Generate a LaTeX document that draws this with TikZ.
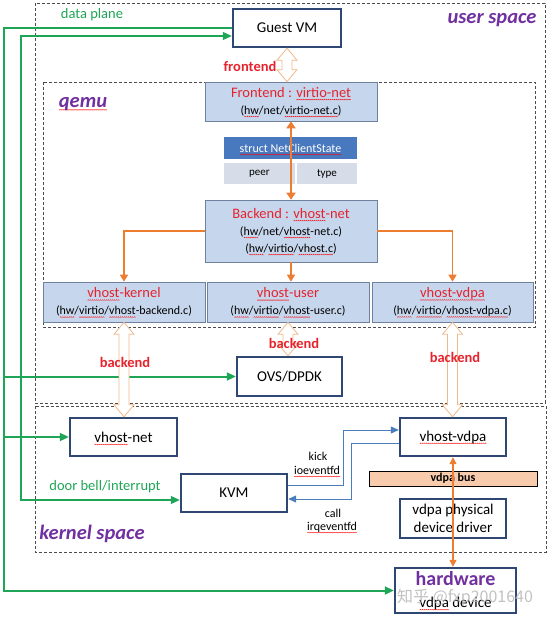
\documentclass[tikz,border=0pt]{standalone}
\usepackage{fontspec}
\setmainfont{Carlito}
\newfontfamily\cjkfont{Noto Sans CJK SC}
\usetikzlibrary{arrows.meta,calc}
\definecolor{tred}{RGB}{230,35,45}
\definecolor{tpurple}{RGB}{112,48,160}
\definecolor{tgreen}{RGB}{30,165,85}
\definecolor{navy}{RGB}{47,72,115}
\definecolor{lblue}{RGB}{198,214,236}
\definecolor{lbord}{RGB}{110,130,160}
\definecolor{sblue}{RGB}{72,120,190}
\definecolor{cellc}{RGB}{214,221,232}
\definecolor{orng}{RGB}{237,125,49}
\definecolor{lorng}{RGB}{240,185,140}
\definecolor{busc}{RGB}{248,203,173}
\definecolor{kblue}{RGB}{74,126,187}
\newcommand\fsz[2]{\fontsize{#1}{#2}\selectfont}
\newcommand\ttl[1]{{\fsz{14.5}{17}\color{tred}#1}}
\newsavebox\sqbox
\newcommand\sq[1]{\leavevmode\sbox\sqbox{#1}\rlap{\raisebox{-2.8pt}[0pt][0pt]{\hbox to \wd\sqbox{\xleaders\hbox{\tikz[x=1pt,y=1pt,baseline=0pt]\draw[red,line width=0.35pt,line join=round] (0,0)--(0.8,0.9)--(1.6,0);}\hfill}}}\usebox\sqbox}
\newcommand\hollowarrow[2]{%
  \path[hollow] let \p1=(#1), \p2=(#2) in
    (\x1,\y1) -- ({\x1+10pt},{\y1-12pt}) -- ({\x1+5pt},{\y1-12pt})
    -- ({\x1+5pt},{\y2+12pt}) -- ({\x1+10pt},{\y2+12pt}) -- (\x1,\y2)
    -- ({\x1-10pt},{\y2+12pt}) -- ({\x1-5pt},{\y2+12pt})
    -- ({\x1-5pt},{\y1-12pt}) -- ({\x1-10pt},{\y1-12pt}) -- cycle;}
\begin{document}
\begin{tikzpicture}[x=1pt,y=-1pt,
  dkbox/.style={draw=navy,line width=2.4pt,fill=white,inner sep=0pt,align=center,font=\fsz{15}{18},text=black},
  qbox/.style={draw=lbord,line width=0.6pt,fill=lblue,inner sep=0pt,align=center,font=\fsz{12}{17}},
  cell/.style={fill=cellc,inner sep=0pt,font=\fsz{11}{12}},
  dashbox/.style={draw=black!70,line width=0.6pt,dash pattern=on 3pt off 2pt},
  spacelbl/.style={inner sep=0pt,text=tpurple,font=\fsz{20.5}{24}\bfseries\itshape},
  redlbl/.style={inner sep=0pt,text=tred,font=\fsz{14.5}{17}\bfseries},
  gtxt/.style={inner sep=0pt,text=tgreen,font=\fsz{14.5}{17}},
  smtxt/.style={inner sep=0pt,font=\fsz{12}{14}},
  hollow/.style={draw=lorng,line width=0.8pt,fill=white},
  othick/.style={draw=orng,line width=2.5pt,{Triangle[length=7pt,width=9pt]}-{Triangle[length=7pt,width=9pt]}},
  othin/.style={draw=orng,line width=1.4pt,-{Triangle[length=7pt,width=8pt]}},
  gthick/.style={draw=tgreen,line width=2pt},
  gthin/.style={draw=tgreen,line width=1.1pt},
  garrow/.style={-{Triangle[length=9pt,width=8pt]}},
  kline/.style={draw=kblue,line width=1pt,-{Triangle[length=8pt,width=7pt]}},
]
\useasboundingbox (0,0) rectangle (550,620);
% containers
\draw[dashbox] (35,3) rectangle (545,403);
\draw[dashbox] (35,406) rectangle (546,552);
\draw[dashbox] (43,82) rectangle (535,327);
% boxes
\node[dkbox,minimum width=108pt,minimum height=38pt] (gvm) at (287,28) {Guest VM};
\node[qbox,minimum width=172pt,minimum height=39pt] (fe) at (291,101.5) {\ttl{Frontend : \sq{virtio-net}}\\(\sq{hw}/net/\sq{virtio-net.c})};
\node[fill=sblue,inner sep=0pt,minimum width=133pt,minimum height=22pt,text=white,font=\fsz{12}{13}] (st) at (290.5,148) {\sq{struct NetClientState}};
\node[cell,minimum width=71pt,minimum height=21pt] (peer) at (259.5,173.5) {peer};
\node[cell,minimum width=60pt,minimum height=21pt] (type) at (327,173.5) {type};
\node[qbox,minimum width=172pt,minimum height=62pt] (be) at (291,231) {\ttl{Backend : \sq{vhost}-net}\\(\sq{hw}/net/\sq{vhost}-net.c)\\(\sq{hw}/\sq{virtio}/\sq{vhost.c})};
\node[qbox,minimum width=162pt,minimum height=40pt] (vk) at (124,302) {\ttl{\sq{vhost}-kernel}\\(\sq{hw}/\sq{virtio}/\sq{vhost}-backend.c)};
\node[qbox,minimum width=162pt,minimum height=40pt] (vu) at (288,302) {\ttl{\sq{vhost}-user}\\(\sq{hw}/\sq{virtio}/\sq{vhost}-user.c)};
\node[qbox,minimum width=161pt,minimum height=40pt] (vv) at (452.5,302) {\ttl{\sq{vhost-vdpa}}\\(\sq{hw}/\sq{virtio}/\sq{vhost-vdpa.c})};
\node[dkbox,minimum width=105pt,minimum height=39pt] (ovs) at (289.5,376.5) {OVS/DPDK};
\node[dkbox,minimum width=107pt,minimum height=38pt] (vnet) at (123.5,437) {\sq{vhost}-net};
\node[dkbox,minimum width=106pt,minimum height=38pt] (kvdpa) at (453,437) {\sq{vhost-vdpa}};
\node[dkbox,minimum width=106pt,minimum height=38pt] (kvm) at (234,493) {KVM};
\node[draw=black,line width=0.6pt,fill=busc,inner sep=0pt,minimum width=168pt,minimum height=15pt,font=\fsz{12}{14}\bfseries] (bus) at (453,478.5) {vdpa bus};
\node[dkbox,minimum width=106pt,minimum height=39pt] (drv) at (453,518.5) {vdpa physical\\device driver};
\node[dkbox,minimum width=121pt,minimum height=45pt,font=\fsz{15}{22}] (hw) at (455.5,590.5) {{\fsz{20}{22}\bfseries\color{tpurple}hardware}\\\sq{vdpa} device};
% orange connectors
\draw[othick] (fe.south) -- (be.north);
\draw[othin] (be.west) -| (vk.north);
\draw[othin] (be.east) -| (vv.north);
\draw[othin] (be.south) -- (be.south |- vu.north);
\draw[draw=orng,line width=1.2pt,{Triangle[length=7pt,width=7pt]}-{Triangle[length=7pt,width=7pt]}] (kvdpa.south) -- (kvdpa.south |- hw.north);
% green data plane
\coordinate (gL) at (4,28);
\coordinate (gI) at (21,36);
\coordinate (kin) at ($(kvm.west)+(0,7)$);
\coordinate (gin) at ($(gvm.west)+(0,8)$);
\draw[gthick,garrow] (gvm.west) -- (gL) |- (hw.west);
\draw[gthick,garrow] (gL |- ovs.west) -- (ovs.west);
\draw[gthick,garrow] (gL |- vnet.west) -- (vnet.west);
\draw[gthin,{Triangle[length=9pt,width=8pt]}-{Triangle[length=9pt,width=8pt]}] (kin) -| (gI) -- (gin);
% kick / call
\draw[kline] ($(kvm.east)+(0,-8)$) -- ++(55,0) |- ($(kvdpa.west)+(0,-7)$);
\draw[kline] ($(kvdpa.west)+(0,6)$) -- ++(-47,0) |- ($(kvm.east)+(0,6)$);
% hollow arrows
\hollowarrow{gvm.south}{fe.north}
\hollowarrow{vk.south}{vnet.north}
\hollowarrow{vu.south}{ovs.north}
\hollowarrow{vv.south}{kvdpa.north}
% labels
\node[spacelbl] (lus) at (492,20) {user space};
\node[spacelbl] (lqemu) at (83,104) {\sq{qemu}};
\node[spacelbl] (lks) at (92,534) {kernel space};
\node[gtxt] (ldp) at (92,15) {data plane};
\node[gtxt] (ldb) at (105,487) {door bell/interrupt};
\node[redlbl] (lfe) at (250,66) {frontend};
\node[redlbl] (lb1) at (125,362) {backend};
\node[redlbl] (lb2) at (294,343) {backend};
\node[redlbl] (lb3) at (455,357) {backend};
\node[smtxt] (lk1) at (318,456) {kick};
\node[smtxt] (lk2) at (317,470) {\sq{ioeventfd}};
\node[smtxt] (lc1) at (333,513) {call};
\node[smtxt] (lc2) at (332,527) {\sq{irqeventfd}};
\node[inner sep=0pt,text=gray!60,opacity=0.8,font=\fsz{16}{18}] (wmk) at (465,598) {\cjkfont 知乎 @fxp2001640};
\end{tikzpicture}
\end{document}
